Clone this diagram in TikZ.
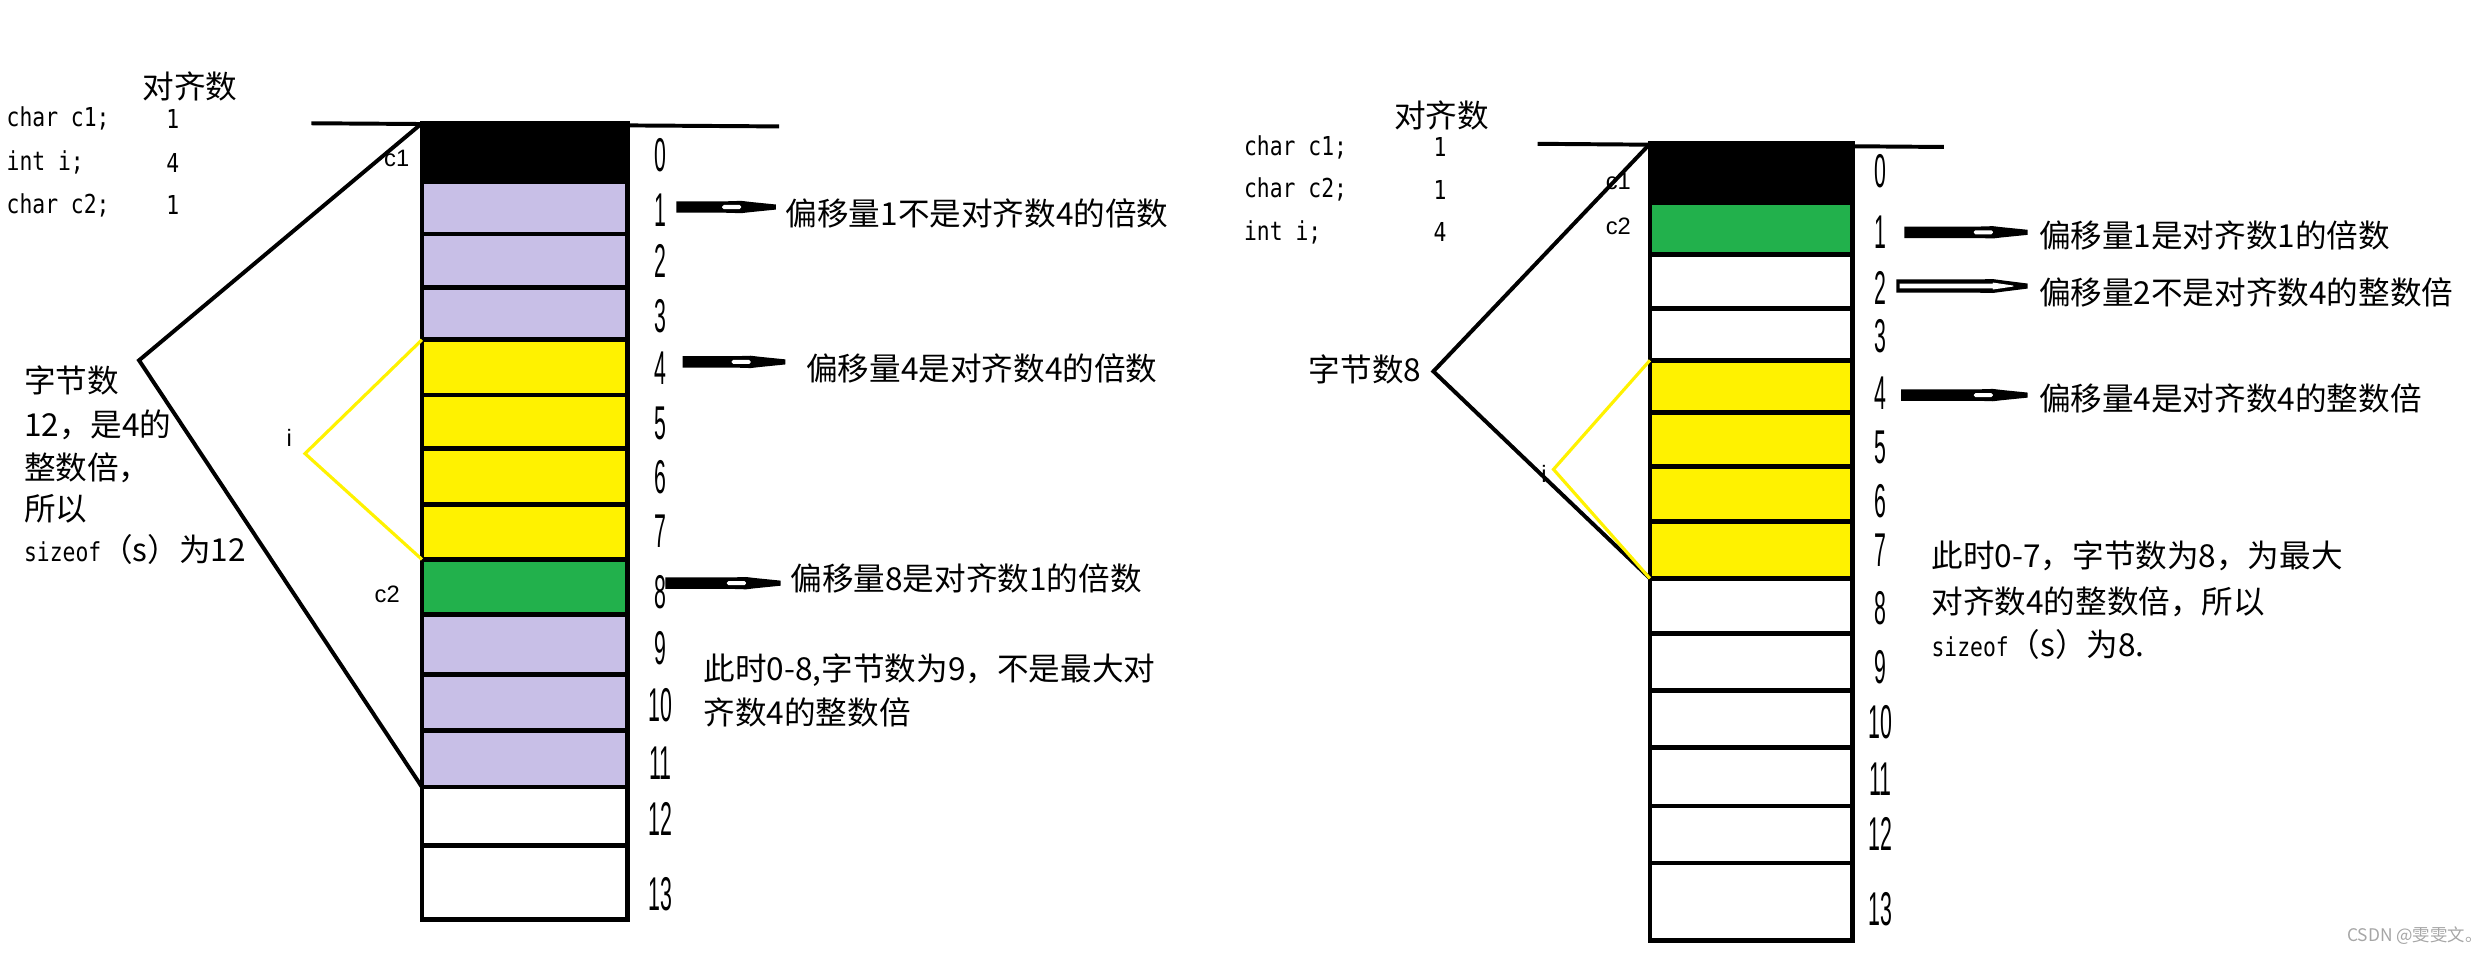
\documentclass[tikz,border=0pt]{standalone}
\usepackage{fontspec}
\setmainfont{Noto Sans CJK SC}
\newfontfamily\monof{DejaVu Sans Mono}
\newfontfamily\latf{Liberation Sans}
\usetikzlibrary{calc}
\definecolor{lav}{RGB}{200,191,231}
\definecolor{pyel}{RGB}{255,242,0}
\definecolor{pgrn}{RGB}{34,177,76}
\newcommand\mycode[1]{\scalebox{0.82}[1]{\monof\fontsize{16.5}{18}\selectfont #1}}
\newcommand\myfatarrow[2]{%
  \fill ($(#1)+(0,-3.6)$) -- ($(#2)+(-32,-3.6)$) -- ($(#2)+(-22,-3.9)$) -- ($(#2)+(-16,-3.2)$) -- ($(#2)+(0,-1.6)$) -- ($(#2)+(0,1.6)$) -- ($(#2)+(-16,3.2)$) -- ($(#2)+(-22,3.9)$) -- ($(#2)+(-32,3.6)$) -- ($(#1)+(0,3.6)$) -- cycle;
  \fill[white, rounded corners=1pt] ($(#2)+(-34,-1.3)$) rectangle ($(#2)+(-22,1.3)$);
}
\newcommand\myhollowarrow[2]{%
  \fill ($(#1)+(0,-4.2)$) -- ($(#2)+(-32,-4.2)$) -- ($(#2)+(-22,-4.4)$) -- ($(#2)+(-16,-3.6)$) -- ($(#2)+(0,-1.6)$) -- ($(#2)+(0,1.6)$) -- ($(#2)+(-16,3.6)$) -- ($(#2)+(-22,4.4)$) -- ($(#2)+(-32,4.2)$) -- ($(#1)+(0,4.2)$) -- cycle;
  \fill[white] ($(#1)+(2,-1.5)$) -- ($(#2)+(-22,-1.5)$) -- ($(#2)+(-22,-2.2)$) -- ($(#2)+(-9,-0.3)$) -- ($(#2)+(-9,0.3)$) -- ($(#2)+(-22,2.2)$) -- ($(#2)+(-22,1.5)$) -- ($(#1)+(2,1.5)$) -- cycle;
}
\begin{document}
\begin{tikzpicture}[x=1pt,y=-1pt,
  cjk/.style={font=\fontsize{20}{22}\selectfont, anchor=west, inner sep=0pt},
  code/.style={anchor=west, inner sep=0pt},
  lab/.style={font=\latf\fontsize{15}{16}\selectfont, inner sep=0pt},
  dig/.style={font=\latf\fontsize{30}{30}\selectfont, inner sep=0pt},
  cellline/.style={line width=3pt},
  brk/.style={line width=2.5pt, line join=miter},
  ybrk/.style={line width=2pt, draw=pyel},
]
\useasboundingbox (0,0) rectangle (1568,607.4);

% ---------------- LEFT ----------------
\node[cjk] (lh) at (90,55) {对齐数};
\node[code] (lc1) at (4,75) {\mycode{char c1;}};
\node[code] (lc1v) at (105,75) {\mycode{1}};
\node[code] (li) at (4,103) {\mycode{int i;}};
\node[code] (liv) at (105,103) {\mycode{4}};
\node[code] (lc2) at (4,130) {\mycode{char c2;}};
\node[code] (lc2v) at (105,130) {\mycode{1}};

\foreach \t/\b/\c in {78/115/black,115/148/lav,148/182/lav,182/215/lav,215/250/pyel,250/284/pyel,284/319/pyel,319/354/pyel,354/389/pgrn,389/427/lav,427/462/lav,462/498/lav,498/535/white,535/582/white}
  \fill[\c] (267,\t) rectangle (397,\b);
\foreach \y in {115,148,182,215,250,284,319,354,389,427,462,498,535}
  \draw[cellline] (267,\y) -- (397,\y);
\draw[cellline] (267,78) rectangle (397,582);
\draw[line width=2.5pt] (197,78) -- (493,80);

\coordinate (LT) at (267,78);
\coordinate (LV) at (88,228);
\coordinate (LB) at (267,498);
\draw[brk] (LT) -- (LV) -- (LB);
\coordinate (LYT) at (267,215);
\coordinate (LYV) at (193,287);
\coordinate (LYB) at (267,354);
\draw[ybrk] (LYT) -- (LYV) -- (LYB);

\node[lab] (lc1l) at (251,100) {c1};
\node[lab] (lc2l) at (245,376) {c2};
\node[lab] (lil) at (183,277) {i};

\foreach \n/\y in {0/98,1/133,2/165,3/200,4/233,5/268,6/302,7/336,8/375,9/410,10/446,11/483,12/518,13/566}
  \node[dig] (ld\n) at (418,\y) {\scalebox{0.45}[1]{\n}};

\node[cjk] (lb1) at (15,241) {字节数};
\node[cjk] (lb2) at (15,269) {12，是4的};
\node[cjk] (lb3) at (15,296) {整数倍，};
\node[cjk] (lb4) at (15,322) {所以};
\node[cjk] (lb5) at (15,348) {\mycode{sizeof}（s）为12};

\coordinate (A1s) at (428,131); \coordinate (A1e) at (491,131);
\coordinate (A4s) at (432,229); \coordinate (A4e) at (497,229);
\coordinate (A8s) at (421,369); \coordinate (A8e) at (494,369);
\myfatarrow{A1s}{A1e}
\myfatarrow{A4s}{A4e}
\myfatarrow{A8s}{A8e}
\node[cjk] (lt1) at (497,135) {偏移量1不是对齐数4的倍数};
\node[cjk] (lt4) at (510,233) {偏移量4是对齐数4的倍数};
\node[cjk] (lt8) at (500,366) {偏移量8是对齐数1的倍数};
\node[cjk] (ln1) at (445,424) {此时0-8,字节数为9，不是最大对};
\node[cjk] (ln2) at (445,451) {齐数4的整数倍};

% ---------------- RIGHT ----------------
\node[cjk] (rh) at (882,73) {对齐数};
\node[code] (rc1) at (787,93) {\mycode{char c1;}};
\node[code] (rc1v) at (907,93) {\mycode{1}};
\node[code] (rc2) at (787,120) {\mycode{char c2;}};
\node[code] (rc2v) at (907,120) {\mycode{1}};
\node[code] (ri) at (787,147) {\mycode{int i;}};
\node[code] (riv) at (907,147) {\mycode{4}};

\foreach \t/\b/\c in {91/128/black,128/161/pgrn,161/195/white,195/228/white,228/261/pyel,261/295/pyel,295/330/pyel,330/366/pyel,366/401/white,401/437/white,437/473/white,473/510/white,510/546/white,546/595/white}
  \fill[\c] (1044,\t) rectangle (1172,\b);
\foreach \y in {128,161,195,228,261,295,330,366,401,437,473,510,546}
  \draw[cellline] (1044,\y) -- (1172,\y);
\draw[cellline] (1044,91) rectangle (1172,595);
\draw[line width=2.5pt] (973,91) -- (1230,93);

\coordinate (RT) at (1044,91);
\coordinate (RV) at (907,235);
\coordinate (RB) at (1044,366);
\draw[brk] (RT) -- (RV) -- (RB);
\coordinate (RYT) at (1044,228);
\coordinate (RYV) at (983,297);
\coordinate (RYB) at (1044,366);
\draw[ybrk] (RYT) -- (RYV) -- (RYB);

\node[lab] (rc1l) at (1024,115) {c1};
\node[lab] (rc2l) at (1024,143) {c2};
\node[lab] (ril) at (977,300) {i};

\foreach \n/\y in {0/108,1/147,2/182,3/213,4/249,5/283,6/317,7/348,8/385,9/422,10/457,11/493,12/528,13/575}
  \node[dig] (rd\n) at (1190,\y) {\scalebox{0.45}[1]{\n}};

\node[cjk] (rb) at (828,234) {字节数8};

\coordinate (B1s) at (1205,147); \coordinate (B1e) at (1283,147);
\coordinate (B2s) at (1200,181); \coordinate (B2e) at (1283,181);
\coordinate (B4s) at (1203,250); \coordinate (B4e) at (1283,250);
\myfatarrow{B1s}{B1e}
\myhollowarrow{B2s}{B2e}
\myfatarrow{B4s}{B4e}
\node[cjk] (rt1) at (1290,149) {偏移量1是对齐数1的倍数};
\node[cjk] (rt2) at (1290,185) {偏移量2不是对齐数4的整数倍};
\node[cjk] (rt4) at (1290,252) {偏移量4是对齐数4的整数倍};
\node[cjk] (rn1) at (1222,352) {此时0-7，字节数为8，为最大};
\node[cjk] (rn2) at (1222,381) {对齐数4的整数倍，所以};
\node[cjk] (rn3) at (1222,408) {\mycode{sizeof}（s）为8.};

\node[font=\fontsize{11}{12}\selectfont, text=gray!70, inner sep=0pt] (wm) at (1528,592) {CSDN @雯雯文。};
\end{tikzpicture}
\end{document}
